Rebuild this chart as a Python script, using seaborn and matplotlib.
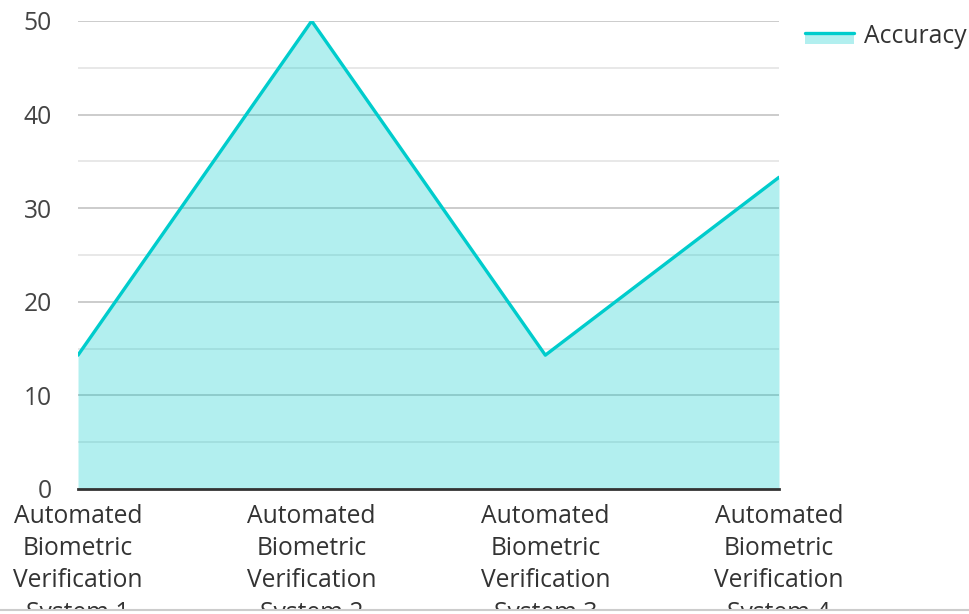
import matplotlib
matplotlib.use("Agg")
import matplotlib.pyplot as plt
import seaborn as sns
import pandas as pd
import numpy as np
from matplotlib.legend_handler import HandlerBase
from matplotlib.patches import Rectangle
from matplotlib.lines import Line2D

categories = ["Automated Biometric Verification System 1",
              "Automated Biometric Verification System 2",
              "Automated Biometric Verification System 3",
              "Automated Biometric Verification System 4"]
tick_labels = ["Automated\nBiometric\nVerification\nSystem 1",
               "Automated\nBiometric\nVerification\nSystem 2",
               "Automated\nBiometric\nVerification\nSystem 3",
               "Automated\nBiometric\nVerification\nSystem 4"]
accuracy = [14.3, 50.0, 14.3, 33.3]
series_name = "Accuracy"

line_color = "#00cccc"
FS = 17.7

sns.set_theme(style="white")
plt.rcParams['font.family'] = ['Open Sans', 'DejaVu Sans']

fig = plt.figure(figsize=(9.69, 6.14), dpi=100)
W, H = 969, 614
ax = fig.add_axes([78 / W, 1 - 489 / H, (779 - 78) / W, (489 - 21) / H])

df = pd.DataFrame({"x": np.arange(len(categories)), "y": accuracy})

# grid
for v in [5, 15, 25, 35, 45]:
    ax.axhline(v, color="#e6e6e6", lw=1.3, zorder=1)
for v in [10, 20, 30, 40, 50]:
    ax.axhline(v, color="#c8c8c8", lw=1.3, zorder=1)

ax.fill_between(df["x"], df["y"], 0, color=line_color, alpha=0.3, lw=0, zorder=2)
sns.lineplot(data=df, x="x", y="y", ax=ax, color=line_color, lw=2.4, zorder=3,
             legend=False)

ax.set_xlim(0, len(categories) - 1)
ax.set_ylim(0, 50)
ax.set_yticks([0, 10, 20, 30, 40, 50])
ax.set_yticklabels(["0", "10", "20", "30", "40", "50"])
ax.set_xticks(df["x"])
ax.set_xticklabels(tick_labels, linespacing=1.39)
ax.set_xlabel("")
ax.set_ylabel("")
for s in ["top", "right", "left"]:
    ax.spines[s].set_visible(False)
ax.spines["bottom"].set_color("#333333")
ax.spines["bottom"].set_linewidth(2)
ax.spines["bottom"].set_zorder(5)
ax.tick_params(axis="y", length=0, pad=19, labelsize=FS, labelcolor="#444444")
ax.tick_params(axis="x", length=0, pad=10.5, labelsize=FS, labelcolor="#333333")


class AreaHandler(HandlerBase):
    def create_artists(self, legend, orig_handle, xdescent, ydescent,
                       width, height, fontsize, trans):
        mid = -ydescent + height * 0.55
        r = Rectangle((-xdescent, mid - 0.45 * fontsize), width, 0.45 * fontsize,
                      facecolor=line_color, alpha=0.3, lw=0, transform=trans)
        l = Line2D([-xdescent, -xdescent + width], [mid, mid],
                   color=line_color, lw=2.4, transform=trans)
        return [r, l]


proxy = Rectangle((0, 0), 1, 1)
fig.legend([proxy], [series_name], handler_map={Rectangle: AreaHandler()},
           loc="upper left", bbox_to_anchor=(795 / W, 1 - 14 / H),
           frameon=False, fontsize=FS, handlelength=2.0, handleheight=0.7,
           handletextpad=0.42, labelcolor="#333333", borderaxespad=0)

# bottom clip strip and border line
fig.add_artist(Rectangle((0, 0), 1, 4 / H, transform=fig.transFigure,
                         facecolor="white", edgecolor="none", zorder=10))
fig.add_artist(Line2D([0, 1], [4 / H, 4 / H], transform=fig.transFigure,
                      color="#cccccc", lw=1.5, zorder=11))

fig.savefig("out.png", dpi=100)
